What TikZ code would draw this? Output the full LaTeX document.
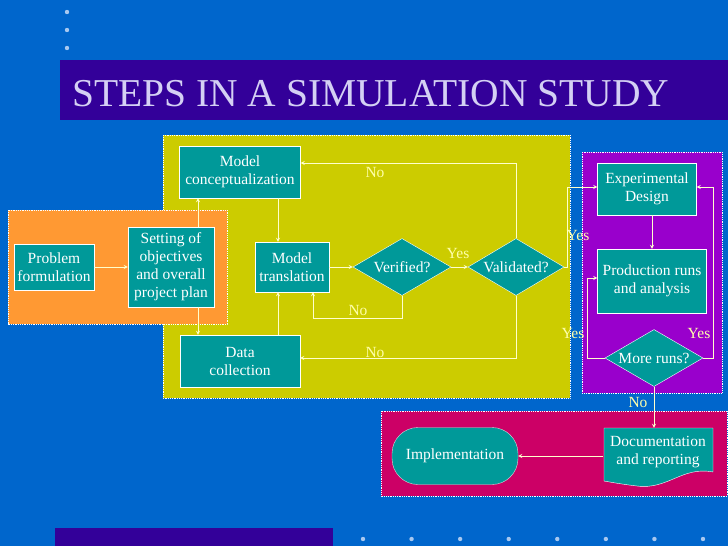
\documentclass[tikz,border=0pt]{standalone}
\usepackage{fontspec}
\setmainfont{Liberation Serif}
\usetikzlibrary{arrows,shapes.geometric}
\definecolor{slideblue}{HTML}{0066CC}
\definecolor{barpurple}{HTML}{330099}
\definecolor{titletext}{HTML}{D4D0F4}
\definecolor{dotblue}{HTML}{A8C8F0}
\definecolor{zoneyellow}{HTML}{CCCC00}
\definecolor{zoneorange}{HTML}{FF9933}
\definecolor{zonepurple}{HTML}{9900CC}
\definecolor{zonepink}{HTML}{CC0066}
\definecolor{stepteal}{HTML}{009999}
\definecolor{linkpale}{HTML}{FFFFCC}
\definecolor{lblpale}{HTML}{FFFFAA}
\newcommand{\bx}{\fontsize{15.5}{18}\selectfont}
\tikzset{
  stepbox/.style={draw=white,fill=stepteal,text=white,align=center,font=\bx,inner sep=1pt},
  askbox/.style={diamond,aspect=1.7,draw=white,fill=stepteal,text=white,font=\bx,inner sep=0pt,
    minimum width=98pt,minimum height=57pt},
  link/.style={draw=linkpale,->,line width=0.8pt},
  lbl/.style={text=lblpale,font=\bx,inner sep=0pt},
  zone/.style={draw=white,densely dotted,line width=0.8pt}
}

\begin{document}
\begin{tikzpicture}[x=1pt,y=-1pt,>=stealth]
  \fill[slideblue] (0,0) rectangle (728,546);
  \useasboundingbox (0,0) rectangle (728,546);
  \foreach \y in {12,30,48} \fill[dotblue] (67,\y) circle (2.2);
  \fill[barpurple] (60,60) rectangle (728,120);
  \node[anchor=base west,inner sep=0pt,text=titletext,font=\fontsize{39.5}{40}\selectfont]
    (title) at (72,106) {STEPS IN A SIMULATION STUDY};
  \fill[barpurple] (55,528) rectangle (333,546);
  \foreach \i in {0,...,7} \fill[dotblue] (363+48.57*\i,539) circle (2.2);

  \draw[zone,fill=zoneyellow] (163,135) rectangle (570,398);
  \draw[zone,fill=zoneorange] (8,210) rectangle (227,324);
  \draw[zone,fill=zonepurple] (582,152) rectangle (722,393);
  \draw[zone,fill=zonepink] (381,411) rectangle (727,496);

  \node[stepbox,minimum width=80pt,minimum height=46pt] (prob) at (54,267) {Problem\\formulation};
  \node[stepbox,minimum width=86pt,minimum height=80pt] (setobj) at (171,267) {Setting of\\objectives\\and overall\\project plan};
  \node[stepbox,minimum width=121pt,minimum height=52pt] (concept) at (240,172) {Model\\conceptualization};
  \node[stepbox,minimum width=74pt,minimum height=50pt] (transl) at (292,267) {Model\\translation};
  \node[stepbox,minimum width=120pt,minimum height=52pt] (data) at (240,361) {Data\\collection};
  \node[askbox] (verif) at (402,267) {Verified?};
  \node[askbox,minimum width=96pt] (valid) at (516,267) {Validated?};
  \node[stepbox,minimum width=99pt,minimum height=52pt] (expdes) at (647,189) {Experimental\\Design};
  \node[stepbox,minimum width=109pt,minimum height=64pt] (prodrun) at (652,281) {Production runs\\and analysis};
  \node[askbox] (more) at (654,358) {More runs?};
  \draw[white,fill=stepteal] (604,428) -- (713,428) -- (713,472)
    .. controls (682,466) and (668,490) .. (637,486)
    .. controls (620,484) and (610,482) .. (604,481) -- cycle;
  \node[text=white,align=center,font=\bx,inner sep=0pt,minimum width=109pt,minimum height=48pt]
    (docrep) at (658,452) {Documentation\\and reporting};
  \node[stepbox,draw=gray!30,rounded corners=26pt,minimum width=126pt,minimum height=57pt]
    (impl) at (455,456) {Implementation};

  \draw[link] (prob.east) -- (setobj.west);
  \draw[link] ([xshift=27pt]setobj.north) -- ([xshift=27pt]setobj.north |- concept.south);
  \draw[link] ([xshift=27pt]setobj.south) -- ([xshift=27pt]setobj.south |- data.north);
  \draw[link] ([xshift=38pt]concept.south) -- ([xshift=38pt]concept.south |- transl.north);
  \draw[link] ([xshift=38pt]data.north) -- ([xshift=38pt]data.north |- transl.south);
  \draw[link] (transl.east) -- (verif.west);
  \draw[link] (verif.east) -- (valid.west);
  \draw[link] (verif.south) -- ++(0,23) -| ([xshift=21pt]transl.south);
  \draw[link] (valid.north) |- ([yshift=9pt]concept.east);
  \draw[link] (valid.south) |- ([yshift=3pt]data.east);
  \draw[link] (valid.east) -- ++(3,0) |- ([yshift=2pt]expdes.west);
  \draw[link] (expdes.south -| prodrun.north) -- (prodrun.north);
  \draw[link] (more.west) -- ++(-17,0) |- ([yshift=3pt]prodrun.west);
  \draw[link] (more.east) -- ++(10,0) |- ([yshift=2pt]expdes.east);
  \draw[link] (more.south) -- (more.south |- docrep.north);
  \draw[link] (docrep.west |- impl.east) -- (impl.east);

  \node[lbl] (yesver) at (458,253) {Yes};
  \node[lbl] (nover) at (358,310) {No};
  \node[lbl] (notop) at (375,172) {No};
  \node[lbl] (nobot) at (375,352) {No};
  \node[lbl] (yesval) at (578,235) {Yes};
  \node[lbl] (yesleft) at (573,333) {Yes};
  \node[lbl] (yesright) at (699,333) {Yes};
  \node[lbl] (nomore) at (638,402) {No};
\end{tikzpicture}
\end{document}
